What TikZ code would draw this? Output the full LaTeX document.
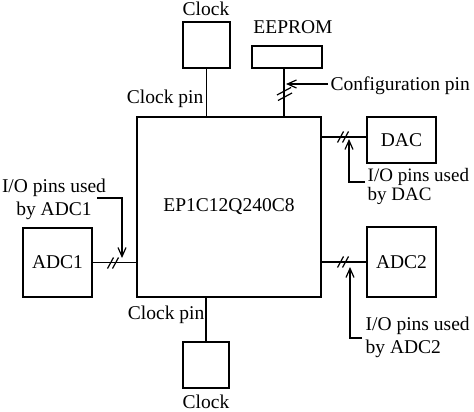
\documentclass[tikz,border=0pt]{standalone}
\usepackage{fontspec}
\setmainfont{Liberation Serif}
\usetikzlibrary{arrows.meta,calc}
\begin{document}
\begin{tikzpicture}[x=1pt,y=-1pt, line width=1.4pt,
  blk/.style={draw, inner sep=0pt, font=\fontsize{19.5}{22}\selectfont},
  lbl/.style={inner sep=0pt, font=\fontsize{19.5}{22}\selectfont},
  pointer/.style={line width=1.2pt, -{Straight Barb[length=9pt,width=8pt,line width=1.2pt]}},
  hslash/.style={line width=1.2pt}]
\useasboundingbox (0,0) rectangle (474,412);
% blocks
\node[blk, minimum width=184pt, minimum height=180pt] (main) at (229,207) {EP1C12Q240C8};
\node[blk, minimum width=47pt, minimum height=46pt] (clk1) at (206.5,45) {};
\node[blk, minimum width=70pt, minimum height=22pt] (eeprom) at (287,57) {};
\node[blk, minimum width=69pt, minimum height=46pt] (dac) at (401.5,140) {DAC};
\node[blk, minimum width=69pt, minimum height=69pt] (adc1) at (57.5,262.5) {ADC1};
\node[blk, minimum width=69pt, minimum height=70pt] (adc2) at (401.5,262) {ADC2};
\node[blk, minimum width=46pt, minimum height=46pt] (clk2) at (206,365) {};
% labels
\node[lbl, anchor=base] (clk1lab) at (206,15.5) {Clock};
\node[lbl, anchor=base] (eelab) at (293,34) {EEPROM};
\node[lbl, anchor=base east] (cp1) at (204,103) {Clock pin};
\node[lbl, anchor=base east] (cp2) at (205,319) {Clock pin};
\node[lbl, anchor=base] (clk2lab) at (206,408) {Clock};
\node[lbl, anchor=base west] (cfg) at (330,91) {Configuration pin};
\node[lbl, anchor=north west, align=left, font=\fontsize{19}{19}\selectfont] (daclab) at (367,168) {I/O pins used\\by DAC};
\node[lbl, anchor=north, align=center, font=\fontsize{19.5}{23}\selectfont] (adc1lab) at (54,178) {I/O pins used\\by ADC1};
\node[lbl, anchor=north west, align=left, font=\fontsize{19.5}{23}\selectfont] (adc2lab) at (365,316) {I/O pins used\\by ADC2};
% connection points
\coordinate (ee) at (284,68);
\coordinate (dacin) at (367,137);
\coordinate (dacout) at (321,137);
% connectors
\draw (clk1.south) -- (clk1.south |- main.north);
\draw (ee) -- (ee |- main.north);
\draw (dacout) -- (dacin);
\draw (adc1.east) -- (adc1.east -| main.west);
\draw (adc2.west -| main.east) -- (adc2.west);
\draw (main.south -| clk2.north) -- (clk2.north);
% bus slashes
\foreach \cx/\cy in {343/137, 343/262, 113/263}{
  \draw[hslash] (\cx-5.5,\cy+5.5) -- (\cx+0.5,\cy-5.5);
  \draw[hslash] (\cx-0.5,\cy+5.5) -- (\cx+5.5,\cy-5.5);
}
\draw[hslash] (277,95) -- (291,87.5);
\draw[hslash] (278,100.5) -- (292,93);
% pointers
\coordinate (cfgs) at (328,84);
\draw[pointer] (cfgs) -- (286,84);
\coordinate (dacs) at (365,182);
\draw[pointer] (dacs) -- (349,182) -- (349,139);
\coordinate (adc1s) at (97,198);
\draw[pointer] (adc1s) -- (122,198) -- (122,258);
\coordinate (adc2s) at (362,338);
\draw[pointer] (adc2s) -- (350,338) -- (350,267);
\end{tikzpicture}
\end{document}
